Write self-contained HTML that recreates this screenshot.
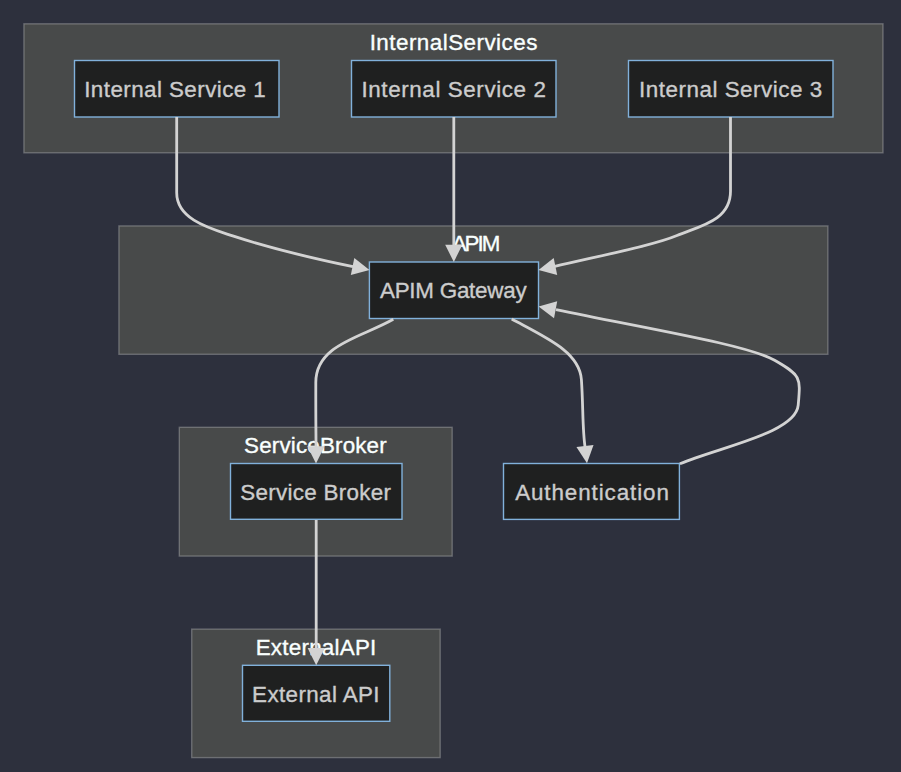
<!DOCTYPE html>
<html>
<head>
<meta charset="utf-8">
<style>
html,body{margin:0;padding:0;background:#2d303d;width:901px;height:772px;overflow:hidden;}
svg{display:block;}
.cl{fill:#484a4a;stroke:rgba(255,255,255,0.25);stroke-width:1.4;}
.nd{fill:#1f2020;stroke:#81b1db;stroke-width:1.4;}
.tt{font-family:"Liberation Sans",sans-serif;font-size:22.4px;fill:#f9fffe;stroke:#f9fffe;stroke-width:0.35;}
.lb{font-family:"Liberation Sans",sans-serif;font-size:22.4px;fill:#cccccc;stroke:#cccccc;stroke-width:0.35;}
.ed{fill:none;stroke:#d3d3d3;stroke-width:2.8;}
.ah{fill:#d3d3d3;stroke:none;}
</style>
</head>
<body>
<svg width="901" height="772" viewBox="0 0 901 772">
<rect class="cl" x="23.9" y="23.8" width="859.1" height="129.0"/>
<rect class="cl" x="118.9" y="225.9" width="709.0" height="128.4"/>
<rect class="cl" x="179.3" y="427.3" width="272.9" height="128.8"/>
<rect class="cl" x="191.7" y="629.1" width="248.5" height="128.5"/>
<text class="tt" x="453.5" y="50" text-anchor="middle" textLength="167.7" lengthAdjust="spacing">InternalServices</text>
<text class="tt" x="476.0" y="251" text-anchor="middle" textLength="48.6" lengthAdjust="spacing">APIM</text>
<text class="tt" x="315.4000000000001" y="453" text-anchor="middle" textLength="142.6" lengthAdjust="spacing">ServiceBroker</text>
<text class="tt" x="315.99999999999994" y="655" text-anchor="middle" textLength="120.7" lengthAdjust="spacing">ExternalAPI</text>
<rect class="nd" x="74.5" y="60.5" width="204.5" height="56.5"/>
<rect class="nd" x="351.5" y="60.5" width="204.5" height="56.5"/>
<rect class="nd" x="628.5" y="60.5" width="204.5" height="56.5"/>
<rect class="nd" x="369.4" y="262.0" width="169.1" height="56.5"/>
<rect class="nd" x="230.5" y="463.5" width="171.5" height="55.8"/>
<rect class="nd" x="503.5" y="463.5" width="175.9" height="55.9"/>
<rect class="nd" x="242.5" y="665.3" width="147.3" height="56.0"/>
<text class="lb" x="175.00000000000006" y="97" text-anchor="middle" textLength="181.6" lengthAdjust="spacing">Internal Service 1</text>
<text class="lb" x="453.7000000000001" y="97" text-anchor="middle" textLength="184.4" lengthAdjust="spacing">Internal Service 2</text>
<text class="lb" x="730.6" y="97" text-anchor="middle" textLength="183.2" lengthAdjust="spacing">Internal Service 3</text>
<text class="lb" x="453.30000000000007" y="298" text-anchor="middle" textLength="146.7" lengthAdjust="spacing">APIM Gateway</text>
<text class="lb" x="315.6999999999998" y="500" text-anchor="middle" textLength="150.7" lengthAdjust="spacing">Service Broker</text>
<text class="lb" x="592.0000000000003" y="500" text-anchor="middle" textLength="153.7" lengthAdjust="spacing">Authentication</text>
<text class="lb" x="315.79999999999995" y="702" text-anchor="middle" textLength="127.4" lengthAdjust="spacing">External API</text>
<path class="ed" d="M176.7 117 L176.7 192.7 C176.7 219.2 209.3 228.2 231.9 235.7 C254.6 243.1 298.7 255.5 353.0 266.7"/>
<path class="ed" d="M730.5 117 L730.5 191.3 C730.5 221.2 698.8 226.3 677.0 235.5 C655.2 244.6 609.2 253.8 553.8 266.7"/>
<path class="ed" d="M453.8 117 L453.8 247"/>
<path class="ed" d="M393.3 319.3 C361.9 337.4 315.9 344.1 315.8 382.4 C315.7 420.8 316.1 440.9 316 448"/>
<path class="ed" d="M511.7 319.1 C546.6 337.9 579.4 352.0 581.4 379.5 C583.3 407.0 582.3 429.6 585.2 448"/>
<path class="ed" d="M679.9 463.8 C721.7 446.4 795.8 432.9 798.2 405.2 C800.6 377.6 801.4 375.6 774.6 360.3 C747.7 344.9 650.0 329.2 556.0 309.6"/>
<path class="ed" d="M316.2 520 L316.2 650"/>
<polygon class="ah" points="369.50,270.00 350.81,274.91 354.31,258.06"/>
<polygon class="ah" points="538.50,270.00 553.69,258.06 557.19,274.91"/>
<polygon class="ah" points="453.80,262.00 445.20,244.70 462.40,244.70"/>
<polygon class="ah" points="316.00,463.50 307.40,446.20 324.60,446.20"/>
<polygon class="ah" points="587.00,463.30 576.44,447.12 593.52,445.11"/>
<polygon class="ah" points="538.60,306.50 557.19,301.24 554.01,318.15"/>
<polygon class="ah" points="316.20,665.20 307.60,647.90 324.80,647.90"/>
</svg>
</body>
</html>
